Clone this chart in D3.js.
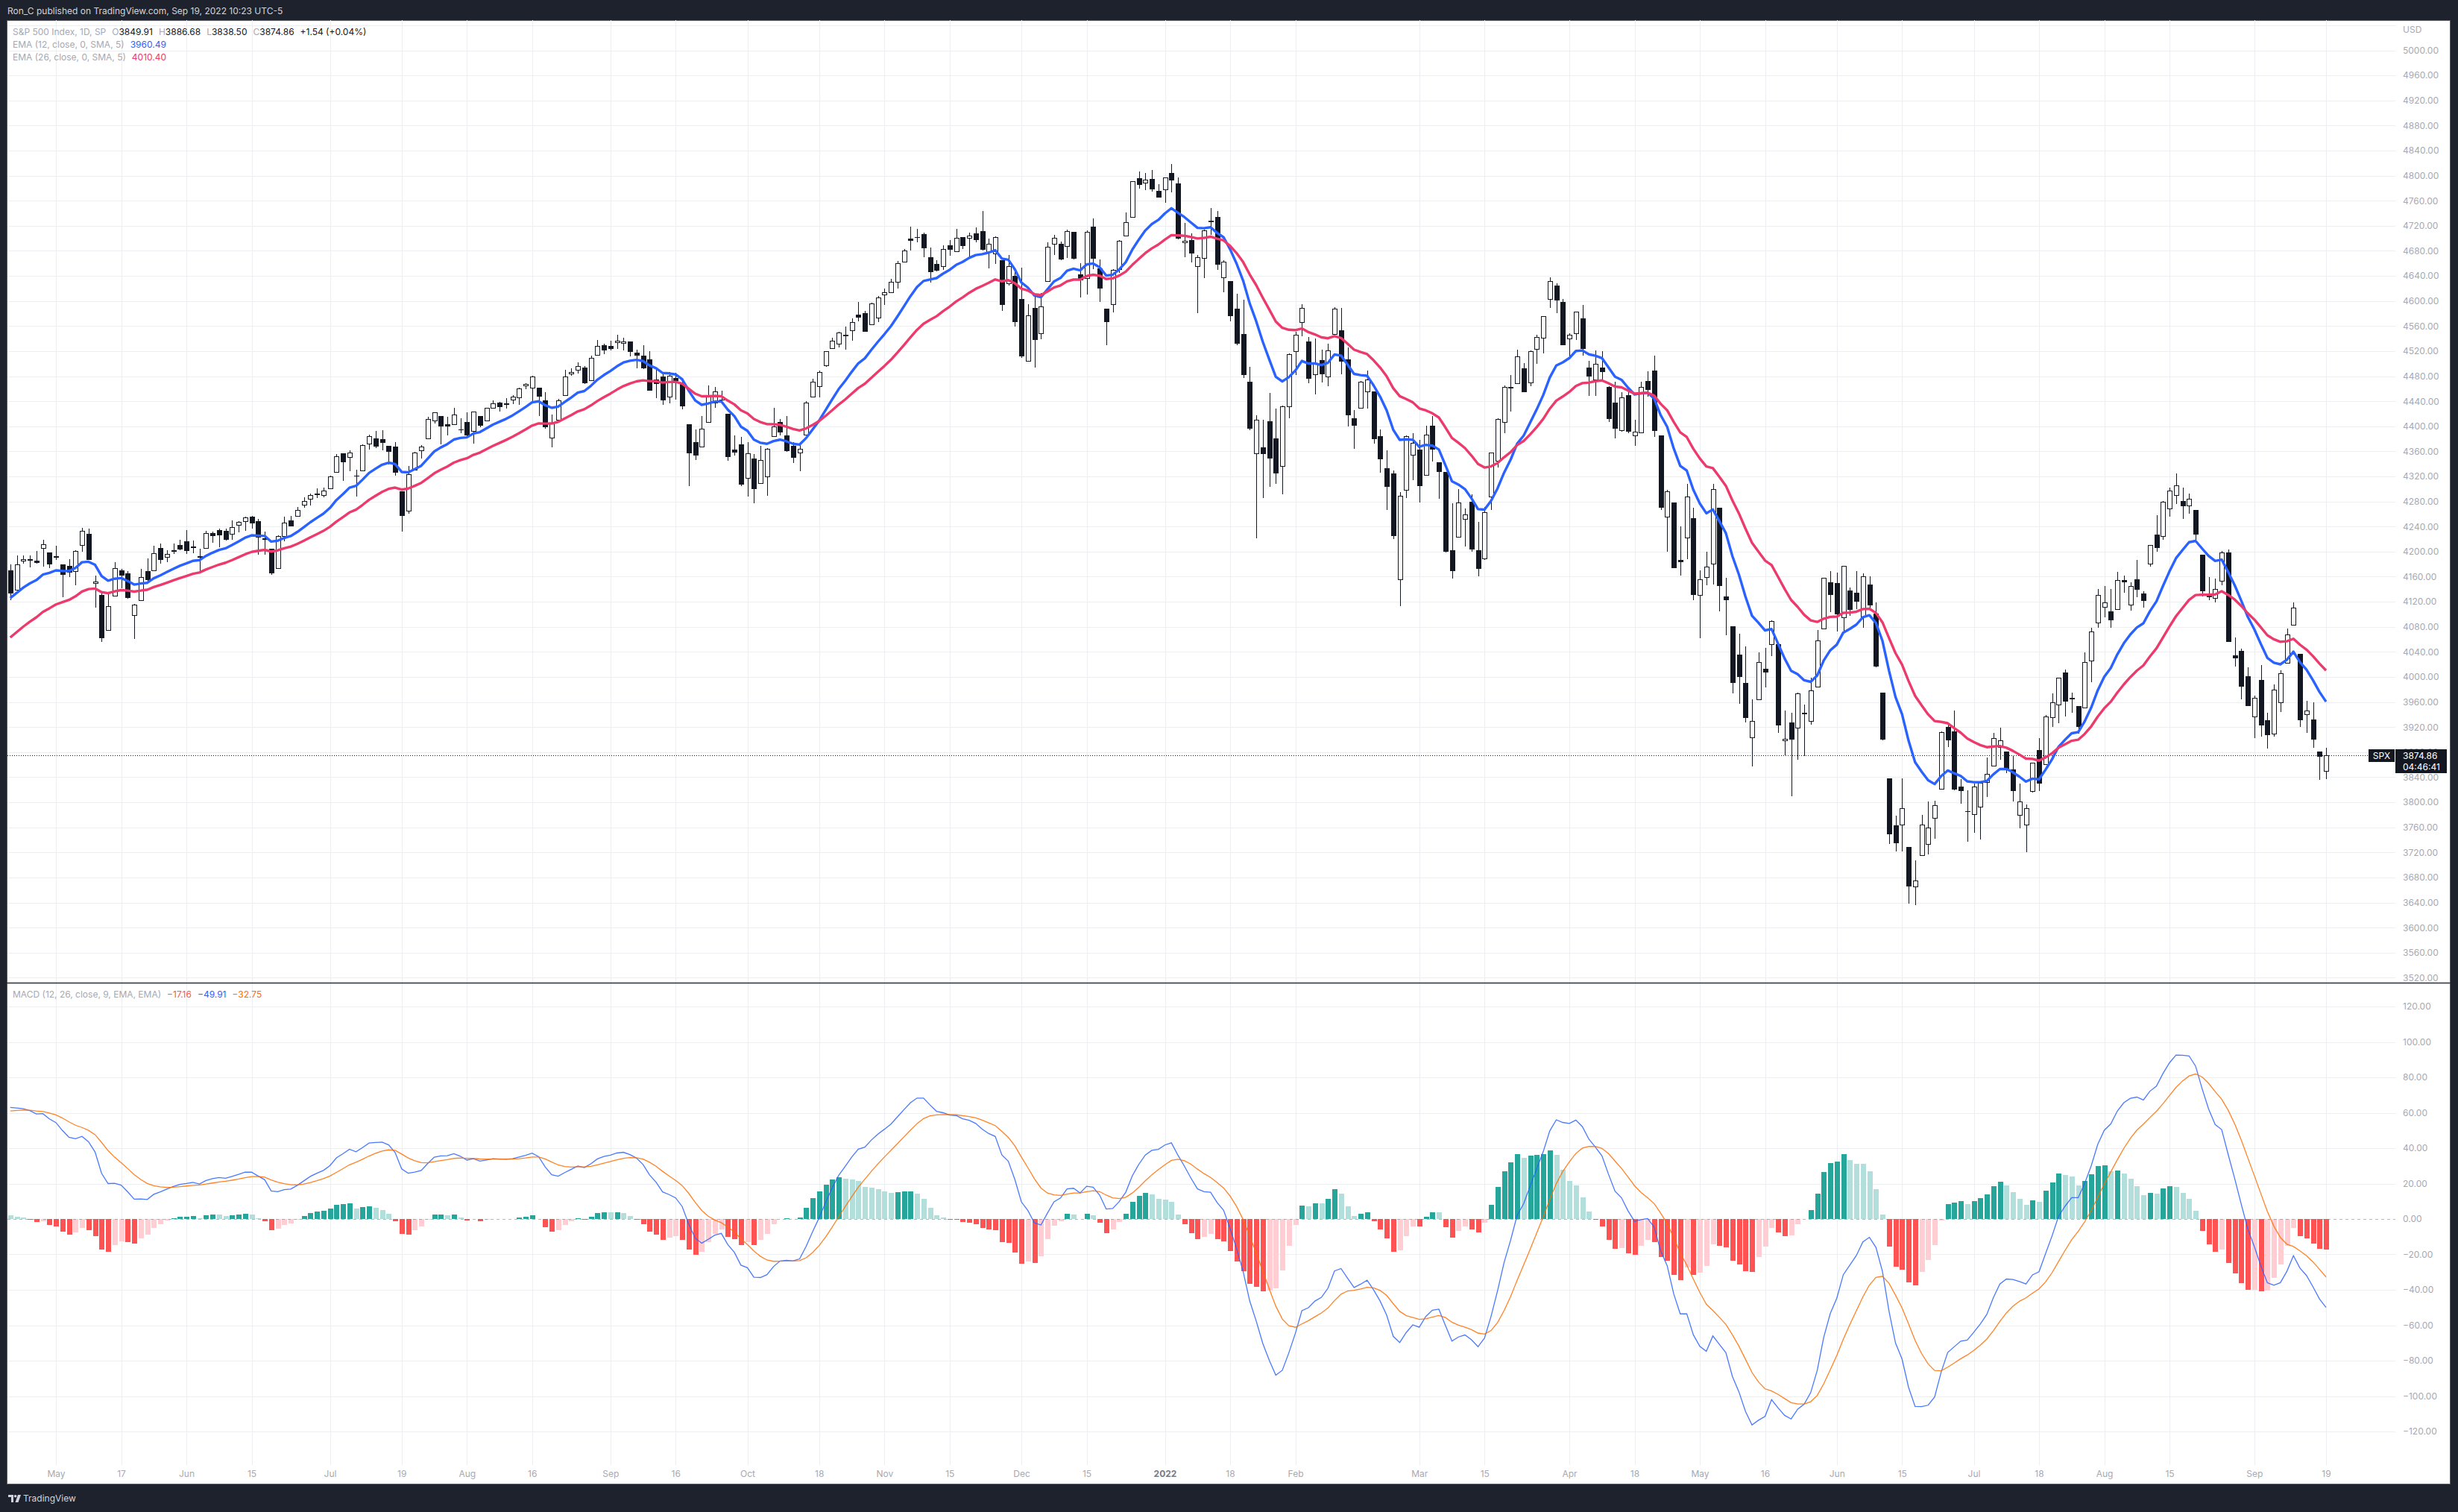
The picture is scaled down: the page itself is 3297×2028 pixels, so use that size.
<!DOCTYPE html>
<html><head><meta charset="utf-8">
<script src="https://cdn.jsdelivr.net/npm/d3@7"></script>
<style>
html,body{margin:0;padding:0;background:#1e222d;}
svg{display:block;}
text{font-family:Inter,"Noto Sans",sans-serif;}
</style></head><body>
<svg id="c" width="3297" height="2028"></svg>
<script>
// ---------- DATA ----------
const tradingDays = [
 "2021-04:22,23,26,27,28,29,30",
 "2021-05:3,4,5,6,7,10,11,12,13,14,17,18,19,20,21,24,25,26,27,28",
 "2021-06:1,2,3,4,7,8,9,10,11,14,15,16,17,18,21,22,23,24,25,28,29,30",
 "2021-07:1,2,6,7,8,9,12,13,14,15,16,19,20,21,22,23,26,27,28,29,30",
 "2021-08:2,3,4,5,6,9,10,11,12,13,16,17,18,19,20,23,24,25,26,27,30,31",
 "2021-09:1,2,3,7,8,9,10,13,14,15,16,17,20,21,22,23,24,27,28,29,30",
 "2021-10:1,4,5,6,7,8,11,12,13,14,15,18,19,20,21,22,25,26,27,28,29",
 "2021-11:1,2,3,4,5,8,9,10,11,12,15,16,17,18,19,22,23,24,26,29,30",
 "2021-12:1,2,3,6,7,8,9,10,13,14,15,16,17,20,21,22,23,27,28,29,30,31",
 "2022-01:3,4,5,6,7,10,11,12,13,14,18,19,20,21,24,25,26,27,28,31",
 "2022-02:1,2,3,4,7,8,9,10,11,14,15,16,17,18,22,23,24,25,28",
 "2022-03:1,2,3,4,7,8,9,10,11,14,15,16,17,18,21,22,23,24,25,28,29,30,31",
 "2022-04:1,4,5,6,7,8,11,12,13,14,18,19,20,21,22,25,26,27,28,29",
 "2022-05:2,3,4,5,6,9,10,11,12,13,16,17,18,19,20,23,24,25,26,27,31",
 "2022-06:1,2,3,6,7,8,9,10,13,14,15,16,17,21,22,23,24,27,28,29,30",
 "2022-07:1,5,6,7,8,11,12,13,14,15,18,19,20,21,22,25,26,27,28,29",
 "2022-08:1,2,3,4,5,8,9,10,11,12,15,16,17,18,19,22,23,24,25,26,29,30,31",
 "2022-09:1,2,6,7,8,9,12,13,14,15,16,19"
];
const openP = [
4170.46,4138.78,4185.03,4188.25,4185.14,4206.14,4198.10,
4191.98,4179.04,4177.06,4169.14,4210.34,4228.29,4150.34,4130.55,4074.99,4129.58,4169.92,4165.94,4098.45,4121.97,4168.61,4170.16,4205.94,4191.59,4201.94,4210.77,
4216.52,4206.82,4191.43,4206.05,4229.34,4233.81,4232.99,4228.56,4242.90,4248.31,4255.28,4248.87,4220.37,4204.78,4173.40,4224.61,4249.27,4256.97,4274.45,4284.90,4293.21,4290.65,
4300.73,4326.60,4356.46,4351.01,4321.07,4329.38,4372.41,4381.07,4380.11,4369.02,4367.43,4296.40,4265.11,4331.13,4361.27,4381.20,4409.58,4416.38,4402.95,4403.59,4395.12,
4406.86,4392.74,4415.95,4408.86,4429.07,4437.77,4435.79,4442.18,4446.08,4464.84,4461.65,4462.12,4440.94,4382.44,4410.56,4450.29,4484.40,4490.45,4493.75,4474.10,4513.76,4529.75,
4528.80,4534.48,4532.42,4535.38,4518.09,4513.02,4506.92,4474.81,4479.33,4447.49,4477.09,4469.74,4402.95,4374.45,4367.43,4406.75,4438.04,4442.12,4419.54,4362.41,4370.67,
4317.16,4348.84,4309.87,4319.57,4383.73,4406.51,4385.44,4368.31,4358.01,4386.75,4447.69,4463.72,4497.34,4524.42,4532.24,4546.12,4553.69,4578.69,4580.22,4562.84,4572.87,
4610.62,4613.34,4630.65,4662.93,4699.26,4701.48,4707.25,4670.26,4659.39,4655.24,4689.30,4679.42,4701.50,4700.72,4708.44,4712.00,4678.48,4675.78,4664.63,4628.75,4640.25,
4602.82,4504.73,4589.49,4548.37,4631.97,4690.86,4691.00,4687.64,4710.30,4642.99,4636.46,4719.13,4652.50,4587.90,4594.96,4650.36,4703.96,4733.99,4795.49,4788.64,4794.23,4775.21,
4778.14,4804.51,4787.99,4693.39,4697.66,4655.34,4669.14,4728.59,4733.56,4637.99,4632.24,4588.03,4547.35,4471.38,4356.32,4366.64,4408.43,4380.58,4336.19,4431.79,
4519.57,4566.39,4535.41,4482.79,4505.75,4480.02,4547.00,4553.24,4506.27,4412.61,4429.28,4455.75,4456.06,4384.57,4332.74,4324.93,4155.77,4298.38,4354.17,
4363.14,4322.56,4401.31,4342.12,4327.01,4202.66,4223.10,4252.55,4279.50,4202.75,4188.82,4288.14,4345.11,4407.34,4462.40,4469.10,4493.10,4469.98,4522.91,4541.09,4602.86,4624.20,4599.02,
4540.32,4547.97,4572.45,4494.17,4474.65,4494.15,4462.64,4437.59,4394.30,4449.12,4385.63,4390.63,4472.26,4489.17,4385.83,4255.34,4278.14,4186.52,4222.58,4253.75,
4130.61,4159.78,4181.18,4270.43,4128.17,4081.27,4035.18,3990.08,3903.95,3963.90,4013.02,4052.00,4051.98,3899.00,3927.76,3919.42,3942.94,3929.59,3984.60,4077.43,4151.09,
4149.78,4095.41,4137.57,4134.72,4096.47,4147.12,4101.65,3974.39,3838.15,3763.52,3764.05,3728.18,3665.90,3715.31,3733.89,3774.71,3821.75,3920.76,3913.00,3825.09,3785.99,
3781.00,3792.61,3831.98,3858.85,3888.26,3880.94,3851.95,3779.67,3763.99,3818.00,3883.79,3860.73,3935.32,3955.47,4007.19,3965.72,3953.22,3951.43,4026.13,4087.33,
4112.38,4104.21,4107.96,4154.85,4115.87,4155.93,4133.11,4181.02,4227.40,4225.02,4269.37,4290.46,4280.40,4273.13,4266.31,4195.08,4133.09,4126.55,4153.26,4198.74,4034.58,4041.25,4000.67,
3936.73,3994.66,3930.89,3909.43,3959.94,4022.94,4083.67,4037.12,3940.73,3932.41,3880.95,3849.91];
const highP = [
4179.57,4194.17,4194.19,4193.35,4201.53,4218.78,4198.10,
4209.39,4179.04,4187.72,4202.70,4238.04,4236.39,4162.04,4134.73,4131.58,4183.13,4171.92,4169.15,4116.93,4172.80,4188.72,4209.52,4213.42,4202.61,4213.38,4218.36,
4234.12,4217.37,4204.39,4233.45,4232.34,4236.74,4237.09,4249.74,4248.38,4255.59,4257.16,4251.89,4232.29,4204.78,4226.24,4255.84,4256.60,4271.28,4286.12,4292.14,4300.52,4302.43,
4320.66,4355.43,4356.46,4361.88,4330.88,4371.60,4386.68,4392.37,4393.68,4369.02,4375.09,4296.40,4336.84,4359.70,4369.87,4415.18,4422.73,4416.38,4415.47,4429.97,4412.25,
4422.18,4423.79,4416.17,4429.76,4440.82,4439.39,4445.21,4449.44,4461.77,4468.37,4480.26,4462.12,4454.32,4418.61,4444.35,4489.88,4492.81,4501.71,4495.90,4513.33,4537.36,4531.39,
4537.11,4545.85,4541.45,4535.38,4521.79,4529.90,4520.47,4492.99,4485.68,4486.87,4485.87,4471.52,4402.95,4394.87,4416.75,4465.40,4463.12,4457.30,4419.54,4385.57,4382.55,
4375.19,4355.51,4369.23,4365.57,4429.97,4412.02,4415.88,4374.89,4372.87,4439.73,4475.82,4488.75,4520.40,4540.87,4551.44,4559.67,4572.62,4598.53,4584.57,4597.55,4608.08,
4620.34,4635.15,4663.46,4683.00,4718.50,4714.92,4708.53,4684.85,4664.55,4688.47,4697.42,4714.95,4701.50,4708.80,4717.75,4743.83,4699.39,4702.87,4664.63,4672.95,4646.02,
4652.94,4595.46,4608.03,4612.60,4694.04,4705.06,4695.26,4713.57,4710.30,4660.47,4712.60,4731.99,4666.70,4587.90,4651.14,4697.67,4740.74,4791.49,4807.02,4804.06,4808.93,4786.83,
4796.64,4818.62,4797.70,4725.01,4707.95,4673.02,4714.13,4748.83,4744.13,4665.13,4632.24,4611.55,4602.11,4494.52,4417.35,4411.01,4453.23,4428.74,4432.72,4516.89,
4550.49,4595.31,4542.88,4539.66,4521.86,4531.32,4590.03,4588.92,4526.33,4426.22,4472.77,4489.55,4456.06,4394.60,4362.12,4329.00,4294.73,4385.34,4388.84,
4378.45,4401.48,4416.78,4342.12,4327.01,4276.94,4299.40,4268.28,4291.01,4247.57,4271.05,4357.86,4412.67,4465.40,4481.75,4522.00,4501.07,4520.58,4546.03,4575.65,4637.30,4627.77,4603.07,
4548.70,4583.50,4593.45,4503.94,4521.16,4520.41,4464.35,4471.00,4453.92,4460.46,4410.31,4471.03,4488.29,4512.94,4385.83,4299.02,4278.14,4240.71,4308.45,4269.68,
4169.81,4200.10,4307.66,4270.43,4157.69,4081.27,4068.82,4049.09,3964.80,4038.88,4046.46,4090.72,4051.98,3945.96,3943.42,3975.15,3955.68,3999.33,4075.14,4158.49,4168.34,
4166.54,4177.51,4142.67,4168.78,4164.86,4160.14,4119.10,3974.39,3838.15,3778.18,3837.56,3728.18,3707.71,3779.65,3801.79,3802.58,3913.65,3927.72,3945.86,3836.50,3818.99,
3829.82,3832.19,3870.91,3910.63,3918.50,3880.94,3873.41,3829.44,3796.41,3863.62,3902.44,3939.81,3974.13,3999.29,4012.44,3975.30,3953.22,4039.56,4078.95,4140.15,
4144.95,4140.47,4167.66,4161.29,4151.58,4186.62,4137.30,4211.03,4257.91,4280.47,4301.79,4325.28,4302.18,4292.53,4266.31,4195.08,4159.77,4156.56,4200.54,4203.04,4062.99,4044.98,4015.37,
3970.23,4018.43,3942.55,3987.89,4010.50,4076.81,4119.28,4037.12,3961.94,3959.14,3880.95,3886.68];
const lowP = [
4123.69,4138.78,4182.36,4176.22,4181.78,4176.81,4174.85,
4188.03,4128.59,4160.94,4147.33,4201.64,4188.13,4111.53,4056.88,4074.99,4129.58,4142.69,4125.99,4061.41,4121.97,4151.72,4170.16,4182.52,4184.11,4197.78,4203.57,
4197.59,4198.27,4167.93,4206.05,4215.66,4208.41,4218.74,4220.34,4232.25,4234.07,4238.35,4196.05,4196.05,4164.40,4173.40,4217.27,4241.43,4256.97,4271.16,4274.67,4286.80,4287.96,
4300.73,4326.60,4314.37,4329.79,4289.37,4329.38,4364.03,4366.92,4362.36,4340.70,4322.53,4233.13,4262.05,4331.13,4350.06,4381.20,4405.45,4372.51,4387.01,4403.59,4389.65,
4384.81,4373.00,4400.23,4408.86,4429.07,4424.74,4430.03,4436.42,4435.96,4460.82,4437.66,4417.83,4397.59,4367.73,4406.80,4450.29,4482.28,4485.66,4468.99,4474.10,4513.76,4515.80,
4522.02,4524.66,4521.94,4513.00,4493.95,4492.07,4457.66,4445.70,4435.46,4438.37,4443.80,4427.76,4305.91,4347.96,4367.43,4406.75,4430.27,4436.19,4346.33,4355.08,4306.24,
4288.52,4278.94,4309.87,4290.49,4383.73,4386.22,4360.59,4342.09,4329.92,4386.75,4447.69,4447.47,4496.41,4524.40,4526.89,4524.00,4537.36,4569.17,4551.66,4562.84,4567.59,
4595.06,4613.34,4621.19,4662.59,4681.32,4694.39,4670.87,4630.86,4648.31,4650.77,4672.86,4679.42,4684.41,4672.78,4694.22,4682.17,4652.66,4659.89,4585.43,4625.26,4560.00,
4510.27,4504.73,4495.12,4540.51,4631.97,4674.52,4665.98,4670.24,4667.60,4606.52,4611.22,4651.89,4600.22,4531.10,4583.16,4645.53,4703.96,4733.99,4780.04,4778.08,4775.33,4765.75,
4758.17,4774.27,4699.44,4671.26,4662.74,4582.24,4638.27,4706.71,4650.29,4614.75,4568.70,4530.20,4477.95,4395.34,4222.62,4287.11,4304.80,4309.50,4292.46,4414.02,
4483.53,4544.32,4470.39,4451.50,4471.47,4465.40,4547.00,4484.31,4401.41,4364.84,4429.28,4429.68,4373.81,4327.22,4267.11,4221.51,4114.65,4286.83,4315.12,
4279.54,4322.56,4345.56,4284.98,4199.85,4157.87,4223.10,4209.80,4200.49,4161.72,4187.90,4267.66,4335.65,4390.57,4424.30,4469.10,4455.81,4465.17,4501.07,4517.69,4589.66,4581.32,4530.41,
4507.57,4539.21,4514.17,4450.04,4450.30,4474.60,4408.38,4381.34,4392.70,4390.77,4370.30,4390.63,4448.76,4384.47,4267.62,4200.82,4175.04,4162.90,4188.63,4124.28,
4062.51,4147.08,4148.91,4106.01,4067.91,3975.48,3958.17,3928.82,3858.87,3963.90,3983.99,4033.93,3911.91,3876.58,3810.32,3868.91,3875.13,3925.03,3984.60,4077.43,4104.88,
4073.85,4074.37,4098.67,4109.18,4080.19,4107.20,4017.17,3900.16,3734.30,3722.30,3722.30,3639.77,3636.87,3715.31,3717.69,3743.52,3821.75,3889.66,3820.14,3799.02,3738.67,
3752.10,3742.06,3809.37,3858.85,3869.34,3847.22,3802.36,3759.07,3721.56,3817.18,3818.63,3860.73,3922.03,3927.64,3938.24,3943.46,3910.74,3951.43,3992.97,4079.22,
4096.02,4079.81,4107.96,4135.42,4107.31,4128.97,4112.09,4177.26,4201.41,4219.78,4256.90,4277.77,4253.08,4261.98,4218.70,4129.86,4124.03,4119.97,4147.59,4057.66,4017.42,3965.21,3954.53,
3903.65,3906.21,3886.75,3906.03,3944.81,4022.94,4083.67,3921.67,3912.47,3888.28,3837.08,3838.50];
const closeP = [
4134.98,4180.17,4187.62,4186.72,4183.18,4211.47,4181.17,
4192.66,4164.66,4167.59,4201.62,4232.60,4188.43,4152.10,4063.04,4112.50,4173.85,4163.29,4127.83,4115.68,4159.12,4155.86,4197.05,4188.13,4195.99,4200.88,4204.11,
4202.04,4208.12,4192.85,4229.89,4226.52,4227.26,4219.55,4239.18,4247.44,4255.15,4246.59,4223.70,4221.86,4166.45,4224.79,4246.44,4241.84,4266.49,4280.70,4290.61,4291.80,4297.50,
4319.94,4352.34,4343.54,4358.13,4320.82,4369.55,4384.63,4369.21,4374.30,4360.03,4327.16,4258.49,4323.06,4358.69,4367.48,4411.79,4422.30,4401.46,4400.64,4419.15,4395.26,
4387.16,4423.15,4402.66,4429.10,4436.52,4432.35,4436.75,4447.70,4460.83,4468.00,4479.71,4448.08,4400.27,4405.80,4441.67,4479.53,4486.23,4496.19,4470.00,4509.37,4528.79,4522.68,
4524.09,4536.95,4535.43,4520.03,4514.07,4493.28,4458.58,4468.73,4443.05,4480.70,4473.75,4432.99,4357.73,4354.19,4395.64,4448.98,4455.48,4443.11,4352.63,4359.46,4307.54,
4357.04,4300.46,4345.72,4363.55,4399.76,4391.34,4361.19,4350.65,4363.80,4438.26,4471.37,4486.46,4519.63,4536.19,4549.78,4544.90,4566.48,4574.79,4551.68,4596.42,4605.38,
4613.67,4630.65,4660.57,4680.06,4697.53,4701.70,4685.25,4646.71,4649.27,4682.85,4682.80,4700.90,4688.67,4704.54,4697.96,4682.94,4690.70,4701.46,4594.62,4655.27,4567.00,
4513.04,4577.10,4538.43,4591.67,4686.75,4701.21,4667.45,4712.02,4668.97,4634.09,4709.85,4668.67,4620.64,4568.02,4649.23,4696.56,4725.79,4791.19,4786.35,4793.06,4778.73,4766.18,
4796.56,4793.54,4700.58,4696.05,4677.03,4670.29,4713.07,4726.35,4659.03,4662.85,4577.11,4532.76,4482.73,4397.94,4410.13,4356.45,4349.93,4326.51,4431.85,4515.55,
4546.54,4589.38,4477.44,4500.53,4483.87,4521.54,4587.18,4504.08,4418.64,4401.67,4471.07,4475.01,4380.26,4348.87,4304.76,4225.50,4288.70,4384.65,4373.94,
4306.26,4386.54,4363.49,4328.87,4201.09,4170.70,4277.88,4259.52,4204.31,4173.11,4262.45,4357.86,4411.67,4463.12,4461.18,4511.61,4456.24,4520.16,4543.06,4575.52,4631.60,4602.45,4530.41,
4545.86,4582.64,4525.12,4481.15,4500.21,4488.28,4412.53,4397.45,4446.59,4392.59,4391.69,4462.21,4459.45,4393.66,4271.78,4296.12,4175.20,4183.96,4287.50,4131.93,
4155.38,4175.48,4300.17,4146.87,4123.34,3991.24,4001.05,3935.18,3930.08,4023.89,4008.01,4088.85,3923.68,3900.79,3901.36,3973.75,3941.48,3978.73,4057.84,4158.24,4132.15,
4101.23,4176.82,4108.54,4121.43,4160.68,4115.77,4017.82,3900.86,3749.63,3735.48,3789.99,3666.77,3674.84,3764.79,3759.89,3795.73,3911.74,3900.11,3821.55,3818.83,3785.38,
3825.33,3831.39,3845.08,3902.62,3899.38,3854.43,3818.80,3801.78,3790.38,3863.16,3830.85,3936.69,3959.90,3998.95,3961.63,3966.84,3921.05,4023.61,4072.43,4130.29,
4118.63,4091.19,4155.17,4151.94,4145.19,4140.06,4122.47,4210.24,4207.27,4280.15,4297.14,4305.20,4274.04,4283.74,4228.48,4137.99,4128.73,4140.77,4199.12,4057.66,4030.61,3986.16,3955.00,
3966.85,3924.26,3908.19,3979.87,4006.18,4067.36,4110.41,3932.69,3946.01,3901.35,3873.33,3874.86];
// indicator values at the first visible bar
const emaSeeds = [4126, 4063];      // EMA12, EMA26
const signalSeed = 61;              // MACD signal
const priceTicks = d3.range(3520, 5001, 40);
const macdTicks = d3.range(-120, 121, 20);
const tickDates = ["2021-05-03","2021-05-17","2021-06-01","2021-06-15","2021-07-01","2021-07-19","2021-08-02","2021-08-16","2021-09-01","2021-09-16","2021-10-01","2021-10-18","2021-11-01","2021-11-15","2021-12-01","2021-12-15","2022-01-03","2022-01-18","2022-02-01","2022-03-01","2022-03-15","2022-04-01","2022-04-18","2022-05-02","2022-05-16","2022-06-01","2022-06-15","2022-07-01","2022-07-18","2022-08-01","2022-08-15","2022-09-01","2022-09-19"];
const tickLabels = ["May","17","Jun","15","Jul","19","Aug","16","Sep","16","Oct","18","Nov","15","Dec","15","2022","18","Feb","Mar","15","Apr","18","May","16","Jun","15","Jul","18","Aug","15","Sep","19"];
const lastPrice = 3874.86;

// ---------- BUILD ----------
const dates = [];
tradingDays.forEach(s => { const [ym, ds] = s.split(':'); ds.split(',').forEach(d => dates.push(ym + '-' + d.padStart(2, '0'))); });
const N = dates.length;
function ema(vals, n, seed) { const a = 2 / (n + 1); const out = [seed]; for (let i = 1; i < vals.length; i++) out.push(a * vals[i] + (1 - a) * out[i - 1]); return out; }
const ema12 = ema(closeP, 12, emaSeeds[0]);
const ema26 = ema(closeP, 26, emaSeeds[1]);
const macd = ema12.map((v, i) => v - ema26[i]);
const signal = ema(macd, 9, signalSeed);
const hist = macd.map((v, i) => v - signal[i]);

const W = 3297, H = 2028;
const plotL = 10, plotR = 3213, mainT = 27, mainB = 1318, macdT = 1319, macdB = 1965;
const GREY = '#a6a9b2', INK = '#131722';

const x = d3.scalePoint().domain(dates).range([13.75, 3120]);
const yP = d3.scaleLinear().domain([3520, 5000]).range([1311.4, 67.5]);
const yM = d3.scaleLinear().domain([-120, 120]).range([1920, 1350]);

const svg = d3.select('#c');
svg.append('rect').attr('width', W).attr('height', H).attr('fill', '#1e222d');
svg.append('rect').attr('x', 9.5).attr('y', 27.5).attr('width', 3277).attr('height', 1963).attr('fill', '#fff').attr('stroke', '#5d606b').attr('stroke-width', 1);

const defs = svg.append('defs');
defs.append('clipPath').attr('id', 'cm').append('rect').attr('x', plotL).attr('y', mainT).attr('width', plotR - plotL).attr('height', mainB - mainT);
defs.append('clipPath').attr('id', 'cd').append('rect').attr('x', plotL).attr('y', macdT).attr('width', plotR - plotL).attr('height', macdB - macdT);

// grid
const grid = svg.append('g').attr('stroke', '#eceef2').attr('stroke-width', 1).attr('shape-rendering', 'crispEdges');
grid.selectAll('.vg').data(tickDates).join('line')
  .attr('x1', d => Math.round(x(d)) + 0.5).attr('x2', d => Math.round(x(d)) + 0.5)
  .attr('y1', mainT).attr('y2', macdB);
grid.selectAll('.hg').data(priceTicks.concat([5040])).join('line')
  .attr('x1', plotL).attr('x2', plotR)
  .attr('y1', d => Math.round(yP(d)) + 0.5).attr('y2', d => Math.round(yP(d)) + 0.5);
const mg = svg.append('g').attr('stroke', '#eceef2').attr('stroke-width', 1).attr('shape-rendering', 'crispEdges');
mg.selectAll('line').data(macdTicks.filter(d => d !== 0)).join('line')
  .attr('x1', plotL).attr('x2', plotR)
  .attr('y1', d => Math.round(yM(d)) + 0.5).attr('y2', d => Math.round(yM(d)) + 0.5);

// ---------- main pane ----------
const main = svg.append('g').attr('clip-path', 'url(#cm)');
const idx = d3.range(N);
const cx = i => Math.round(x(dates[i]));
const cg = main.append('g').attr('shape-rendering', 'crispEdges');
cg.selectAll('.wick').data(idx).join('line')
  .attr('x1', i => cx(i) + 0.5).attr('x2', i => cx(i) + 0.5)
  .attr('y1', i => Math.round(yP(Math.max(highP[i], openP[i], closeP[i]))))
  .attr('y2', i => Math.round(yP(Math.min(lowP[i], openP[i], closeP[i]))) + 1)
  .attr('stroke', INK).attr('stroke-width', 1);
cg.selectAll('.body').data(idx).join('rect')
  .attr('x', i => cx(i) - 3 + 0.5)
  .attr('y', i => Math.round(yP(Math.max(openP[i], closeP[i]))) + 0.5)
  .attr('width', 6)
  .attr('height', i => Math.max(Math.round(yP(Math.min(openP[i], closeP[i]))) - Math.round(yP(Math.max(openP[i], closeP[i]))), 0.01))
  .attr('fill', i => closeP[i] >= openP[i] ? '#ffffff' : INK)
  .attr('stroke', INK).attr('stroke-width', 1);

// last price dotted line
main.append('line').attr('x1', plotL).attr('x2', 3177).attr('y1', Math.round(yP(lastPrice)) + 0.5).attr('y2', Math.round(yP(lastPrice)) + 0.5)
  .attr('stroke', INK).attr('stroke-width', 1).attr('stroke-dasharray', '1 2');

const lineP = arr => d3.line().x((d, i) => x(dates[i])).y(d => yP(d))(arr);
main.append('path').attr('d', lineP(ema12)).attr('fill', 'none').attr('stroke', '#2962ff').attr('stroke-width', 3.4).attr('stroke-linejoin', 'round');
main.append('path').attr('d', lineP(ema26)).attr('fill', 'none').attr('stroke', '#ec3a6d').attr('stroke-width', 3.4).attr('stroke-linejoin', 'round');

// ---------- MACD pane ----------
const mp = svg.append('g').attr('clip-path', 'url(#cd)');
const histColor = i => {
  const h = hist[i], p = i > 0 ? hist[i - 1] : h;
  return h >= 0 ? (p < h ? '#26a69a' : '#b2dfdb') : (p < h ? '#ffcdd2' : '#ff5252');
};
mp.append('g').attr('shape-rendering', 'crispEdges').selectAll('rect').data(idx).join('rect')
  .attr('x', i => cx(i) - 3)
  .attr('width', 7)
  .attr('y', i => Math.min(yM(0), yM(hist[i])))
  .attr('height', i => Math.abs(yM(hist[i]) - yM(0)))
  .attr('fill', histColor);
mp.append('line').attr('x1', plotL).attr('x2', plotR).attr('y1', Math.round(yM(0)) + 0.5).attr('y2', Math.round(yM(0)) + 0.5)
  .attr('stroke', '#787b86').attr('stroke-opacity', 0.55).attr('stroke-dasharray', '4 4').attr('shape-rendering', 'crispEdges');
const lineM = arr => d3.line().x((d, i) => x(dates[i])).y(d => yM(d))(arr);
mp.append('path').attr('d', lineM(macd)).attr('fill', 'none').attr('stroke', '#2962ff').attr('stroke-width', 1.3).attr('stroke-opacity', 0.85);
mp.append('path').attr('d', lineM(signal)).attr('fill', 'none').attr('stroke', '#ff6d00').attr('stroke-width', 1.3).attr('stroke-opacity', 0.85);

// pane separator
svg.append('line').attr('x1', 9).attr('x2', 3287).attr('y1', 1318.5).attr('y2', 1318.5).attr('stroke', '#2a2e39').attr('stroke-width', 1.5);

// ---------- axes ----------
const styleAxis = g => { g.select('.domain').remove(); g.selectAll('text').attr('fill', GREY).attr('font-size', 12).attr('font-family', 'Inter'); };
svg.append('g').attr('transform', `translate(${plotR},0)`)
  .call(d3.axisRight(yP).tickValues(priceTicks).tickFormat(d => d.toFixed(2)).tickSize(0).tickPadding(10))
  .call(styleAxis);
svg.append('g').attr('transform', `translate(${plotR},0)`)
  .call(d3.axisRight(yM).tickValues(macdTicks).tickFormat(d => (d < 0 ? '\u2212' : '') + Math.abs(d).toFixed(2)).tickSize(0).tickPadding(10))
  .call(styleAxis);
svg.append('text').attr('x', 3223).attr('y', 44).attr('fill', GREY).attr('font-size', 12).text('USD');
const tAx = svg.append('g').attr('transform', `translate(0,${macdB})`)
  .call(d3.axisBottom(x).tickValues(tickDates).tickFormat((d, i) => tickLabels[i]).tickSize(0).tickPadding(7))
  .call(styleAxis);
tAx.selectAll('text').filter(function () { return this.textContent === '2022'; }).attr('fill', '#787b86').attr('font-weight', 700);

// ---------- legends ----------
svg.append('text').attr('x', 10).attr('y', 19).attr('fill', '#d1d4dc').attr('font-size', 12).text('Ron_C published on TradingView.com, Sep 19, 2022 10:23 UTC-5');

const lg = svg.append('text').attr('x', 17).attr('y', 47).attr('font-size', 12);
lg.append('tspan').attr('fill', GREY).text('S&P 500 Index, 1D, SP');
[['O', '3849.91'], ['H', '3886.68'], ['L', '3838.50'], ['C', '3874.86']].forEach(([k, v]) => {
  lg.append('tspan').attr('fill', GREY).attr('dx', 8).text(k);
  lg.append('tspan').attr('fill', INK).text(v);
});
lg.append('tspan').attr('fill', INK).attr('dx', 8).text('+1.54 (+0.04%)');

const l2 = svg.append('text').attr('x', 17).attr('y', 64).attr('font-size', 12);
l2.append('tspan').attr('fill', GREY).text('EMA (12, close, 0, SMA, 5)');
l2.append('tspan').attr('fill', '#2962ff').attr('dx', 8).text('3960.49');
const l3 = svg.append('text').attr('x', 17).attr('y', 81).attr('font-size', 12);
l3.append('tspan').attr('fill', GREY).text('EMA (26, close, 0, SMA, 5)');
l3.append('tspan').attr('fill', '#ec3a6d').attr('dx', 8).text('4010.40');

const l4 = svg.append('text').attr('x', 17).attr('y', 1338).attr('font-size', 12);
l4.append('tspan').attr('fill', GREY).text('MACD (12, 26, close, 9, EMA, EMA)');
l4.append('tspan').attr('fill', '#ff5252').attr('dx', 8).text('\u221217.16');
l4.append('tspan').attr('fill', '#2962ff').attr('dx', 8).text('\u221249.91');
l4.append('tspan').attr('fill', '#ff6d00').attr('dx', 8).text('\u221232.75');

// ---------- last price labels ----------
const ly = Math.round(yP(lastPrice));
svg.append('rect').attr('x', 3177).attr('y', ly - 8).attr('width', 35).attr('height', 17).attr('fill', INK);
svg.append('text').attr('x', 3194.5).attr('y', ly + 4.5).attr('text-anchor', 'middle').attr('fill', '#fff').attr('font-size', 12).text('SPX');
svg.append('rect').attr('x', 3213).attr('y', ly - 8).attr('width', 69).attr('height', 32).attr('fill', INK);
svg.append('text').attr('x', 3223).attr('y', ly + 4.5).attr('fill', '#fff').attr('font-size', 12).text(lastPrice.toFixed(2));
svg.append('text').attr('x', 3223).attr('y', ly + 19.5).attr('fill', '#fff').attr('font-size', 12).text('04:46:41');

// ---------- footer ----------
const logo = svg.append('g').attr('transform', 'translate(11,2005)').attr('fill', '#d1d4dc');
logo.append('path').attr('d', 'M0,0H7V10H4V3H0Z');
logo.append('circle').attr('cx', 9.6).attr('cy', 1.8).attr('r', 1.8);
logo.append('path').attr('d', 'M13,0H17L13.5,10H9.5Z');
svg.append('text').attr('x', 31).attr('y', 2014).attr('fill', '#d1d4dc').attr('font-size', 12).text('TradingView');
</script>
</body></html>
